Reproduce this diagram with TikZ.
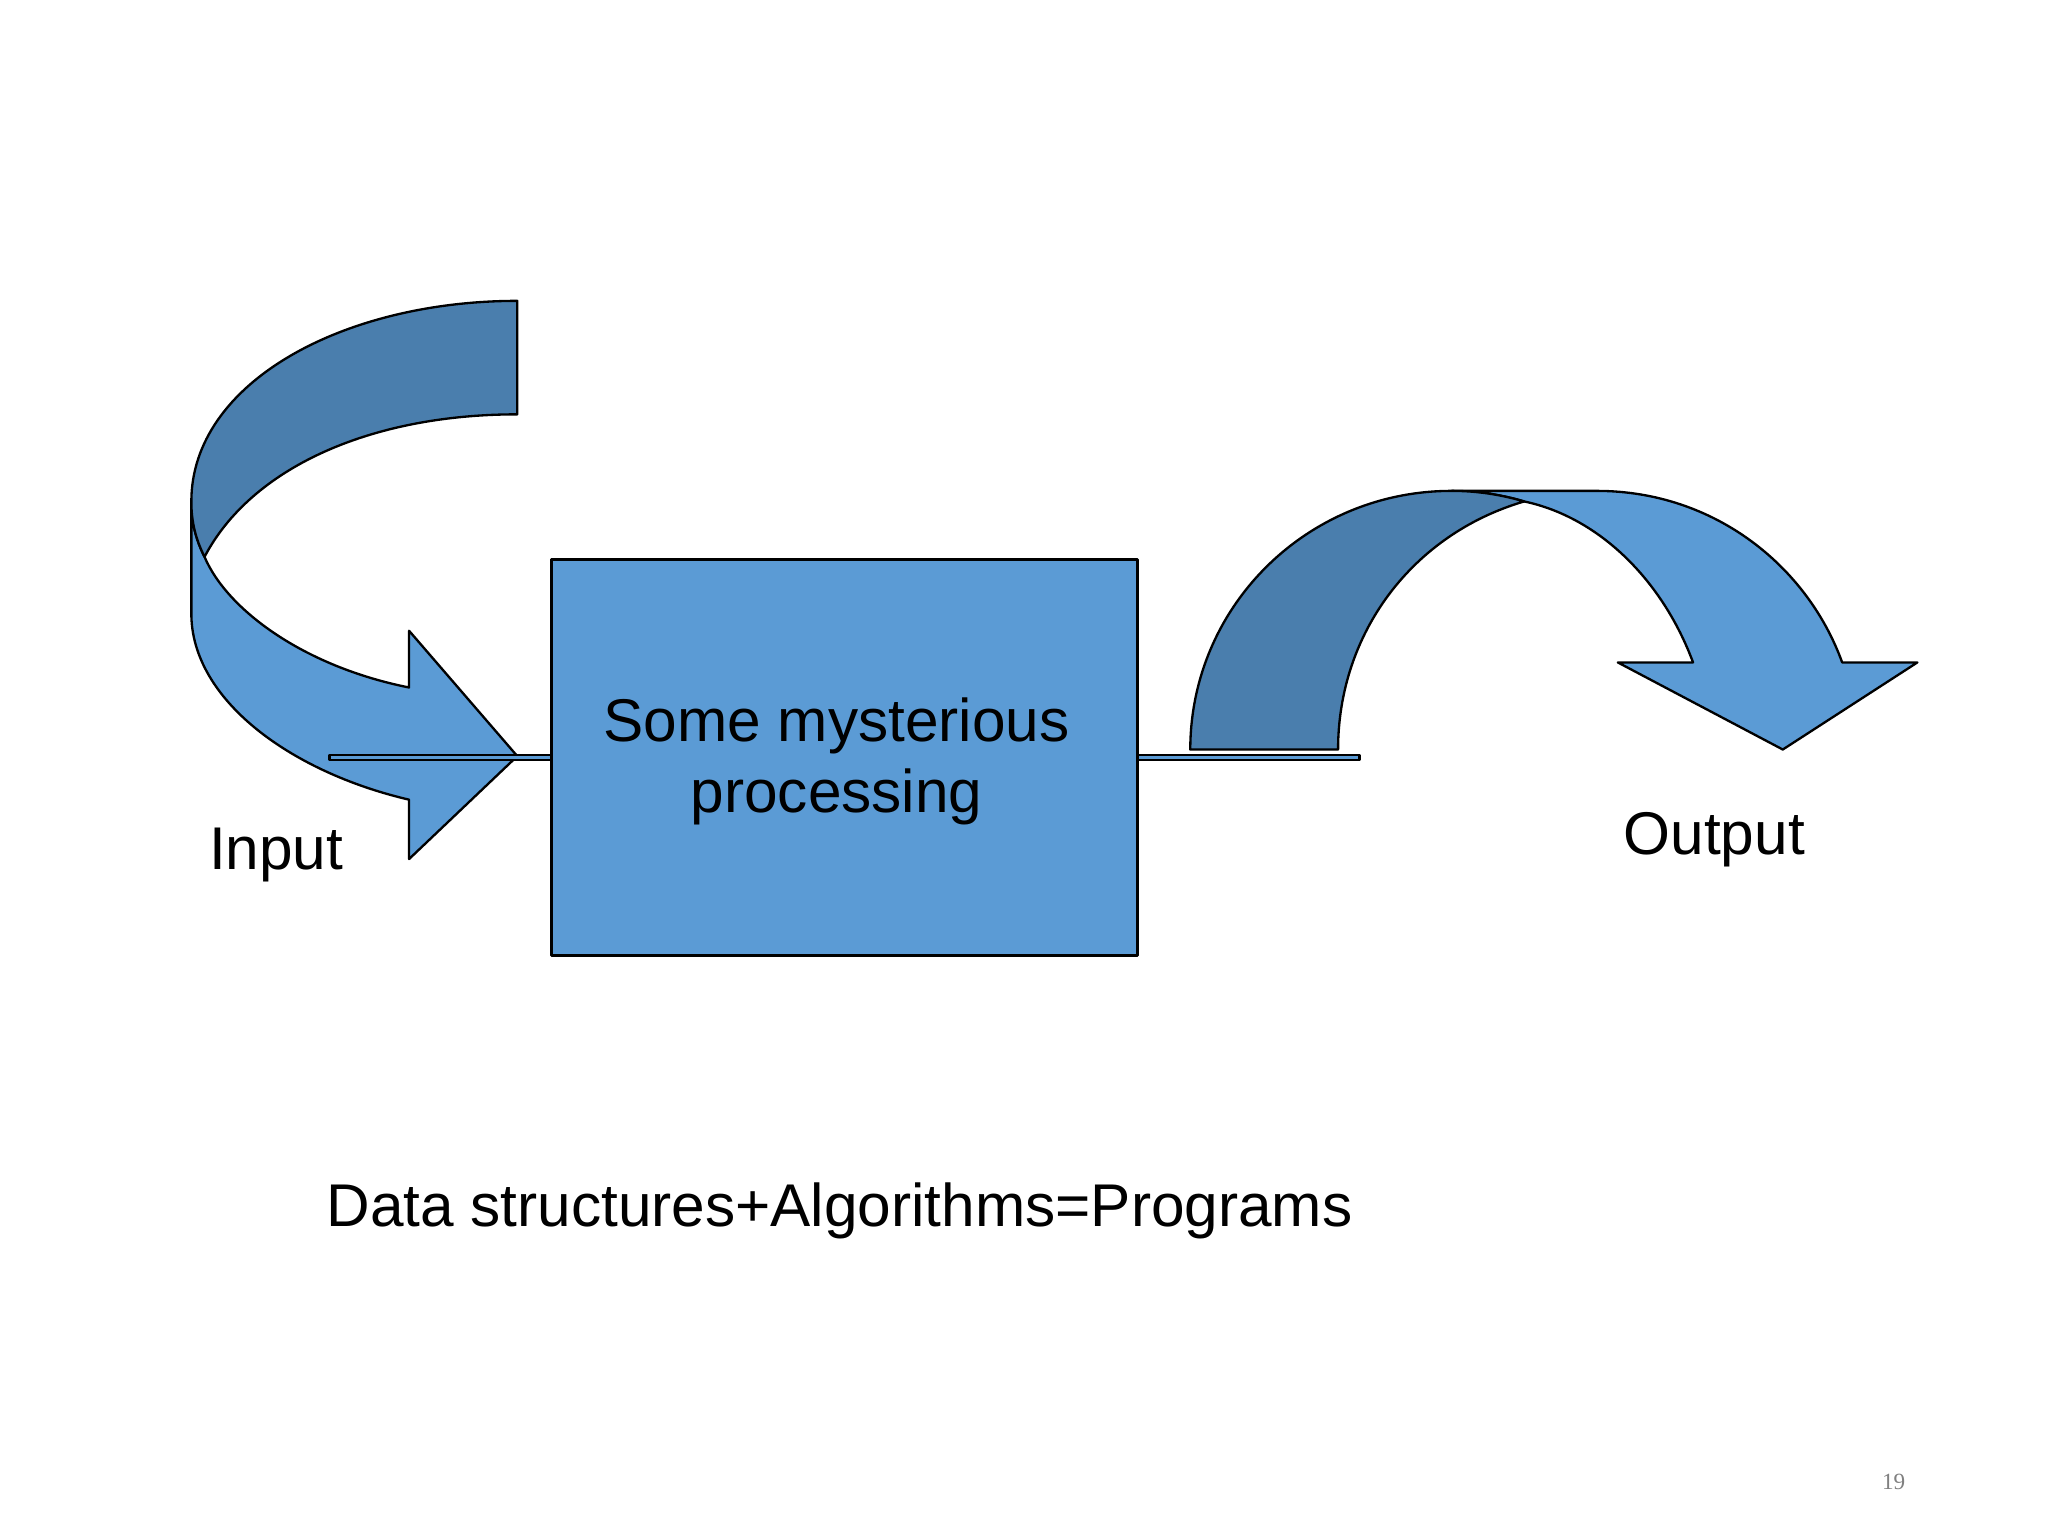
\documentclass[tikz,border=0pt]{standalone}
\usepackage{fontspec}
\setmainfont{Liberation Sans}
\definecolor{lb}{HTML}{5B9BD5}
\definecolor{db}{HTML}{4A7EAD}
\begin{document}
\begin{tikzpicture}[x=0.01cm,y=-0.01cm,
  shp/.style={draw=black,line width=0.5pt,line join=round},
  lbl/.style={font=\fontsize{13}{15.5}\selectfont,align=center}]
\useasboundingbox (0,0) rectangle (1552,1164);
% left arrow
\path[shp,fill=lb] (145,380) -- (145,465) .. controls (145,530) and (220,585) .. (310,606) -- (310,651) -- (392,573) -- (310,478) -- (310,521) .. controls (230,505) and (172,462) .. (155,422) .. controls (148,408) and (145,395) .. (145,380) -- cycle;
\path[shp,fill=db] (392,228) -- (392,314) .. controls (280,314) and (190,355) .. (155,422) .. controls (148,408) and (145,395) .. (145,380) .. controls (145,290) and (260,228) .. (392,228) -- cycle;
% box
\node[shp,fill=lb,minimum width=444\pgflinewidth,inner sep=0] (box) at (640,574) {};
\path[shp,fill=lb] (418,424) rectangle (862,724);
\node[lbl] (proc) at (634,577) {Some mysterious\\processing};
% right arrow
\path[shp,fill=lb] (1100,372) -- (1210,372) .. controls (1300,372) and (1370,430) .. (1396,502) -- (1453,502) -- (1351,568) -- (1226,502) -- (1283,502) .. controls (1260,440) and (1212,392) .. (1155,380) .. controls (1138,375) and (1120,372) .. (1100,372) -- cycle;
\path[shp,fill=db] (902,568) -- (1014,568) .. controls (1014,480) and (1070,405) .. (1155,380) .. controls (1138,375) and (1120,372) .. (1100,372) .. controls (990,372) and (902,460) .. (902,568) -- cycle;
% labels
\node[lbl,anchor=west] (in) at (146,648) {Input};
\node[lbl,anchor=west] (out) at (1218,636) {Output};
\node[lbl,anchor=west] (eq) at (235,918) {Data structures+Algorithms=Programs};
\node[font=\fontspec{Liberation Serif}\fontsize{5}{6}\selectfont,text=gray] (pg) at (1435,1123) {19};
\end{tikzpicture}
\end{document}
